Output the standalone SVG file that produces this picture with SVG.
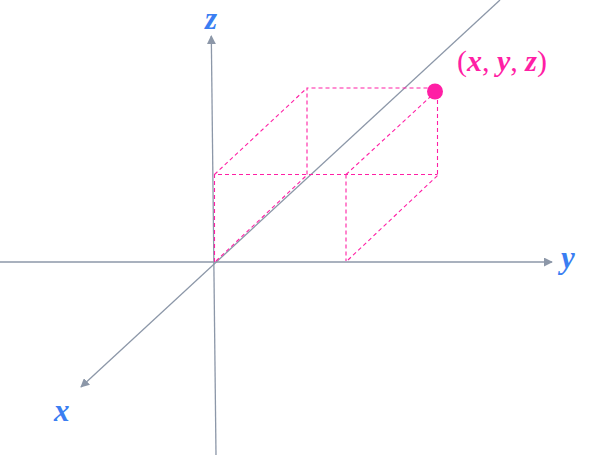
<svg xmlns="http://www.w3.org/2000/svg" width="601" height="466" viewBox="0 0 601 466">
<style>
.axis{stroke:#8c97a8;stroke-width:1.3;fill:none}
.dash{stroke:#ff1fa5;stroke-width:1.1;fill:none;stroke-dasharray:4 3}
.lbl{font-family:"Liberation Serif","DejaVu Serif",serif;font-weight:bold;font-style:italic;fill:#3a7ef2}
.pt{font-family:"Liberation Serif","DejaVu Serif",serif;fill:#ff1fa5;font-size:30px}
</style>
<defs>
<marker id="ah" viewBox="0 0 10 10" refX="9" refY="5" markerWidth="9" markerHeight="9" markerUnits="userSpaceOnUse" orient="auto">
<path d="M0,0 L10,5 L0,10 Z" fill="#8c97a8"/>
</marker>
</defs>
<rect width="601" height="466" fill="#ffffff"/>
<g id="connectors">
<line class="axis" x1="216" y1="455" x2="211.3" y2="36" marker-end="url(#ah)"/>
<line class="axis" x1="0" y1="262" x2="552" y2="262" marker-end="url(#ah)"/>
<line class="axis" x1="500" y1="0" x2="81" y2="387" marker-end="url(#ah)"/>
</g>
<g id="box">
<path class="dash" d="M214.5,262 V174.5 H437.5 M346,174.5 V261 M307,174.5 V88 H430 M437.5,100 V175 M214.5,174.5 L307,88 M346,174.5 L430,97 M348,260 L437.5,175.5 M216,261 L307,175"/>
</g>
<g id="point">
<circle cx="435" cy="91.5" r="8" fill="#ff1fa5"/>
<text class="pt" x="457" y="71"><tspan>(</tspan><tspan font-weight="bold" font-style="italic">x</tspan><tspan>, </tspan><tspan font-weight="bold" font-style="italic">y</tspan><tspan>, </tspan><tspan font-weight="bold" font-style="italic">z</tspan><tspan>)</tspan></text>
</g>
<g id="label-z"><text class="lbl" x="205" y="29" font-size="31">z</text></g>
<g id="label-y"><text class="lbl" x="561" y="268" font-size="31">y</text></g>
<g id="label-x"><text class="lbl" x="54" y="421" font-size="31">x</text></g>
</svg>
